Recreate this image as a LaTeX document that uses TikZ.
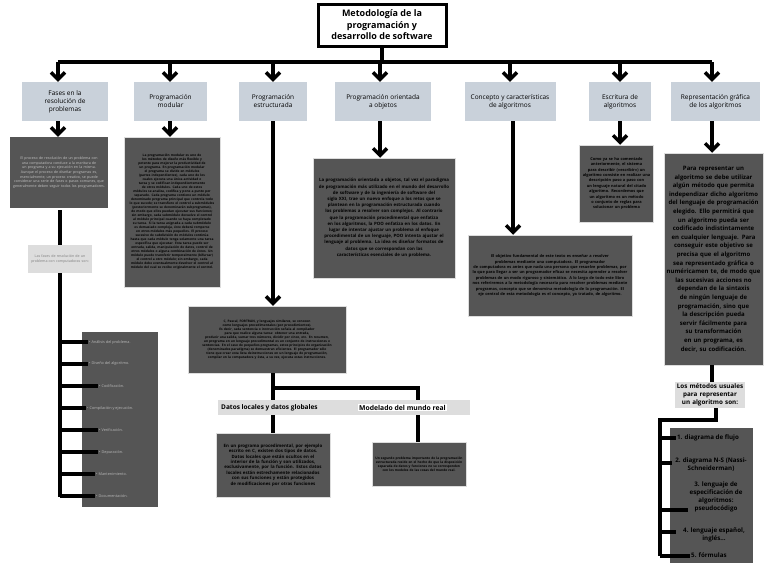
\documentclass[tikz,border=0pt]{standalone}
\usepackage{fontspec}
\setmainfont{Open Sans}
\usetikzlibrary{arrows.meta}
\definecolor{hdr}{HTML}{C9D1DA}
\definecolor{dk}{HTML}{555555}
\definecolor{lt}{HTML}{DDDDDD}
\begin{document}
\hyphenpenalty=10000 \exhyphenpenalty=10000
\begin{tikzpicture}[x=1pt,y=-1pt,
 ln/.style={line width=3.5pt},
 ar/.style={line width=3.5pt,-{Straight Barb[length=7pt,width=14pt,line width=3.5pt]}},
 hd/.style={fill=hdr,align=center,font=\fontsize{6.5}{8}\selectfont,inner sep=2pt},
 dkb/.style={fill=dk,draw=lt,line width=0.5pt,align=center,inner sep=2pt,font=\fontsize{3.2}{4}\selectfont\bfseries},
 ltb/.style={fill=lt,align=center,inner sep=2pt}]
\useasboundingbox (0,0) rectangle (768,576);
% title
\node[draw,line width=3pt,align=center,font=\fontsize{9}{11.5}\selectfont\bfseries,minimum width=128pt,minimum height=42pt] (t) at (382,25) {Metodología de la\\programación y\\desarrollo de software};
\coordinate (bl) at (58,62); \coordinate (br) at (712,62);
\draw[ln] (t.south) -- (382,62);
\draw[ln] (bl) -- (br);
% headers
\node[hd,minimum width=86pt,minimum height=39pt] (h1) at (65,101.5) {Fases en la\\resolución de\\problemas};
\node[hd,minimum width=73pt,minimum height=39pt] (h2) at (170.5,101.5) {Programación\\modular};
\node[hd,minimum width=68pt,minimum height=39pt] (h3) at (273,101.5) {Programación\\estructurada};
\node[hd,minimum width=96pt,minimum height=39pt] (h4) at (383,101.5) {Programación orientada\\a objetos};
\node[hd,minimum width=91pt,minimum height=39pt] (h5) at (510,101.5) {Concepto y características\\de algoritmos};
\node[hd,minimum width=62pt,minimum height=39pt] (h6) at (620,101.5) {Escritura de\\algoritmos};
\node[hd,minimum width=89pt,minimum height=39pt] (h7) at (715.5,101.5) {Representación gráfica\\de los algoritmos};
\foreach \x/\n in {58/h1,170/h2,273/h3,380/h4,510/h5,620/h6,712/h7}
  \draw[ar] (\x,62) -- (\x,62 |- \n.north);
% column 1
\node[fill=dk,text width=94pt,minimum height=71pt,align=center,inner sep=2pt,font=\fontsize{3.6}{4.6}\selectfont,text=lt!70!gray] (d1) at (59,172.5) {El proceso de resolución de un problema con una computadora conduce a la escritura de un programa y a su ejecución en la misma. Aunque el proceso de diseñar programas es, esencialmente, un proceso creativo, se puede considerar una serie de fases o pasos comunes, que generalmente deben seguir todos los programadores.};
\draw[ar] (h1.south -| 58,0) -- (d1.north -| 58,0);
\node[ltb,text width=60pt,minimum height=28pt,font=\fontsize{3.6}{4.6}\selectfont,text=gray] (l1) at (60,259) {Las fases de resolución de un problema con computadoras son:};
\draw[ln] (60,210) -- (l1.north);
\node[fill=dk,minimum width=76pt,minimum height=175pt] (f1) at (120,419.5) {};
\draw[ln] (l1.south) -- (60,497);
\foreach \y/\tx/\e in {342/Análisis del problema./88,364/Diseño del algoritmo./88,386/Codificación./98,408/Compilación y ejecución./86,430/Verificación./98,452/Depuración./98,474/Mantenimiento./95,496/Documentación./95}{
  \draw[ln] (60,\y) -- (\e,\y);
  \node[anchor=west,font=\fontsize{3.8}{4.6}\selectfont,text=lt!60!gray,inner sep=1pt] at (\e,\y) {• \tx};}
% modular
\node[dkb,text width=92pt,minimum height=150pt,text=black] (d2) at (172,212) {La programación modular es uno de los métodos de diseño más flexible y potente para mejorar la productividad de\\un programa. En programación modular el programa se divide en módulos (partes independientes), cada uno de los\\cuales ejecuta una única actividad o tarea y se codifican independientemente de otros módulos. Cada uno de estos\\módulos se analiza, codifica y pone a punto por separado. Cada programa contiene un módulo denominado programa principal que controla todo lo que sucede; se transfiere el control a submódulos (posteriormente se denominarán subprogramas), de modo que ellos puedan ejecutar sus funciones; sin embargo, cada submódulo devuelve el control\\al módulo principal cuando se haya completado su tarea. Si la tarea asignada a cada submódulo es demasiado compleja, éste deberá romperse en otros módulos más pequeños. El proceso sucesivo de subdivisión de módulos continúa\\hasta que cada módulo tenga solamente una tarea específica que ejecutar. Esta tarea puede ser entrada, salida, manipulación de datos, control de otros módulos o alguna combinación de éstos. Un módulo puede transferir temporalmente (bifurcar) el control a otro módulo; sin embargo, cada módulo debe eventualmente devolver el control al\\módulo del cual se recibe originalmente el control.};
\draw[ar] (h2.south -| 170,0) -- (d2.north -| 170,0);
% estructurada
\node[dkb,text width=154pt,minimum height=67pt,text=black] (d3) at (267,339.5) {C, Pascal, FORTRAN, y lenguajes similares, se conocen como lenguajes procedimentales (por procedimientos).\\Es decir, cada sentencia o instrucción señala al compilador para que realice alguna tarea: obtener una entrada,\\producir una salida, sumar tres números, dividir por cinco, etc. En resumen, un programa en un lenguaje procedimental es un conjunto de instrucciones o sentencias. En el caso de pequeños programas, estos principios de organización (denominados paradigma) se demuestran eficientes. El programador sólo tiene que crear esta lista deinstrucciones en un lenguaje de programación, compilar en la computadora y ésta, a su vez, ejecuta estas instrucciones.};
\draw[ar] (h3.south -| 273,0) -- (d3.north -| 273,0);
\node[ltb,minimum width=252pt,minimum height=15pt] (bar) at (344,407.5) {};
\node[anchor=west,font=\fontsize{6.5}{8}\selectfont\bfseries,inner sep=1pt] (s1) at (220,407.5) {Datos locales y datos globales};
\node[anchor=west,font=\fontsize{6.8}{8}\selectfont\bfseries,inner sep=1pt,fill=white] (s2) at (358,407.5) {Modelado del mundo real};
\draw[ln] (d3.south -| 273,0) -- (bar.north -| 273,0);
\draw[ln] (273,388) -- (418,388) -- (bar.north -| 418,0);
\node[dkb,text width=110pt,minimum height=64pt,text=black,font=\fontsize{4.4}{5.4}\selectfont\bfseries] (d3a) at (273,465) {En un programa procedimental, por ejemplo escrito en C, existen dos tipos de datos. Datos locales que están ocultos en el interior de la función y son utilizados, exclusivamente, por la función. Estos datos locales están estrechamente relacionados con sus funciones y están protegidos de modificaciones por otras funciones};
\draw[ln] (bar.south -| 273,0) -- (d3a.north -| 273,0);
\node[dkb,text width=90pt,minimum height=44pt,text=black] (d3b) at (419,464) {Un segundo problema importante de la programación estructurada reside en el hecho de que la disposición separada de datos y funciones no se corresponden con los modelos de las cosas del mundo real.};
\draw[ln] (bar.south -| 418,0) -- (d3b.north -| 418,0);
% OOP
\node[dkb,text width=138pt,minimum height=120pt,text=black,font=\fontsize{4.4}{6.2}\selectfont\bfseries] (d4) at (384,218) {La programación orientada a objetos, tal vez el paradigma de programación más utilizado en el mundo del desarrollo\\de software y de la ingeniería de software del siglo XXI, trae un nuevo enfoque a los retos que se plantean en la programación estructurada cuando los problemas a resolver son complejos. Al contrario que la programación procedimental que enfatiza en los algoritmos, la POO enfatiza en los datos. En lugar de intentar ajustar un problema al enfoque procedimental de un lenguaje, POO intenta ajustar el lenguaje al problema. La idea es diseñar formatos de\\datos que se correspondan con las características esenciales de un problema.};
\draw[ar] (h4.south -| 380,0) -- (d4.north -| 380,0);
% concept
\node[dkb,text width=160pt,minimum height=81pt,text=black,font=\fontsize{3.9}{5.4}\selectfont\bfseries] (d5) at (550,275.5) {El objetivo fundamental de este texto es enseñar a resolver problemas mediante una computadora. El programador\\de computadora es antes que nada una persona que resuelve problemas, por lo que para llegar a ser un programador eficaz se necesita aprender a resolver problemas de un modo riguroso y sistemático. A lo largo de todo este libro nos referiremos a la metodología necesaria para resolver problemas mediante programas, concepto que se denomina metodología de la programación. El eje central de esta metodología es el concepto, ya tratado, de algoritmo.};
\draw[ar] (h5.south -| 513,0) -- (d5.north -| 513,0);
% escritura
\node[dkb,text width=70pt,minimum height=77pt,text=black,font=\fontsize{3.9}{5.4}\selectfont\bfseries] (d6) at (616.5,183.5) {Como ya se ha comentado anteriormente, el sistema para describir («escribir») un algoritmo consiste en realizar una\\descripción paso a paso con un lenguaje natural del citado algoritmo. Recordemos que un algoritmo es un método o conjunto de reglas para solucionar un problema};
\draw[ar] (h6.south -| 620,0) -- (d6.north -| 620,0);
% representacion
\node[dkb,text width=95pt,minimum height=212pt,text=black,font=\fontsize{6}{8.6}\selectfont\bfseries] (d7) at (713.5,259) {Para representar un algoritmo se debe utilizar algún método que permita independizar dicho algoritmo del lenguaje de programación elegido. Ello permitirá que un algoritmo pueda ser codificado indistintamente en cualquier lenguaje. Para conseguir este objetivo se precisa que el algoritmo sea representado gráfica o numéricamen te, de modo que\\las sucesivas acciones no dependan de la sintaxis de ningún lenguaje de programación, sino que la descripción pueda servir fácilmente para su transformación en un programa, es decir, su codificación.};
\draw[ar] (h7.south -| 712,0) -- (d7.north -| 712,0);
\node[ltb,text width=68pt,minimum height=26pt,font=\fontsize{6.3}{8}\selectfont\bfseries,inner sep=1pt] (l7) at (710,395) {Los métodos usuales para representar un algoritmo son:};
\draw[ln] (d7.south -| 712,0) -- (l7.north -| 712,0);
\node[fill=dk,minimum width=83pt,minimum height=135pt] (f7) at (711.5,495.5) {};
\draw[ln] (l7.south -| 716,0) -- (716,420) -- (660,420) -- (660,556);
\foreach \y/\e in {438/676,463/672,510/688,532/676,556/690}{
  \draw[ln] (660,\y) -- (\e,\y);}
\tikzset{it/.style={font=\fontsize{6.2}{8}\selectfont\bfseries,align=center,inner sep=1pt}}
\node[it,anchor=west] at (676,438) {1. diagrama de flujo};
\node[it] at (711,465) {2. diagrama N-S (Nassi-\\Schneiderman)};
\node[it] at (716,497) {3. lenguaje de\\especificación de\\algoritmos:\\pseudocódigo};
\node[it] at (714,535) {4. lenguaje español,\\inglés...};
\node[it,anchor=west] at (690,555) {5. fórmulas};
\end{tikzpicture}
\end{document}
